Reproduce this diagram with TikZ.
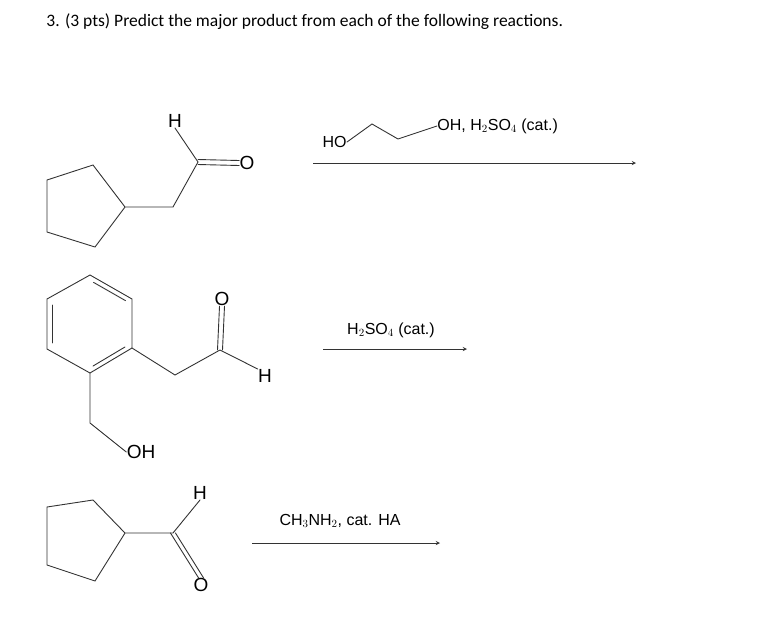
\documentclass[tikz,border=0pt]{standalone}
\usetikzlibrary{calc}
\usepackage{fontspec}
\setmainfont{Liberation Sans}
\newfontfamily\titlefont{Carlito}
\begin{document}
\begin{tikzpicture}[x=1pt,y=-1pt,line width=0.9pt,
  bond/.style={draw=black!80,line cap=round},
  atom/.style={inner sep=0pt,font=\fontsize{19}{19}\selectfont},
  reag/.style={inner sep=0pt,font=\fontsize{16}{16}\selectfont},
  arr/.style={draw=black!80,-stealth}]
\useasboundingbox (0,0) rectangle (757,633);
\node[anchor=west,inner sep=0pt,font=\titlefont\fontsize{17.5}{18}\selectfont] (title) at (46,22) {3. (3 pts) Predict the major product from each of the following reactions.};
% molecule 1
\coordinate (a1) at (47,180); \coordinate (a2) at (93,165); \coordinate (a3) at (125,207);
\coordinate (a4) at (95,247); \coordinate (a5) at (47,232); \coordinate (a6) at (173,207);
\coordinate (a7) at (198,162);
\node[atom] (h1) at (175,121) {H};
\node[atom] (o1) at (247,163) {O};
\draw[bond] (a1)--(a2)--(a3)--(a4)--(a5)--cycle (a3)--(a6)--(a7)--(h1.south);
\draw[bond] ([yshift=-2.5]a7)--([yshift=-2.5]o1.west) ([yshift=2.5]a7)--([yshift=2.5]o1.west);
% reagent 1
\node[reag,anchor=east] (ho) at (347,142) {HO};
\coordinate (r1) at (372,124); \coordinate (r2) at (398,139);
\node[reag,anchor=west] (oh) at (437,126) {OH, H$_2$SO$_4$ (cat.)};
\draw[bond] (ho.east)--(r1)--(r2)--(oh.west);
\coordinate (s1) at (313,163); \coordinate (e1) at (636,163);
\draw[arr] (s1)--(e1);
% molecule 2
\coordinate (b1) at (90,275); \coordinate (b2) at (132,299); \coordinate (b3) at (132,348);
\coordinate (b4) at (90,373); \coordinate (b5) at (47,349); \coordinate (b6) at (47,299);
\draw[bond] (b1)--(b2)--(b3)--(b4)--(b5)--(b6)--cycle;
\draw[bond] ($(b1)!0.12!(b2)+(-1.5,4.5)$) -- ($(b1)!0.88!(b2)+(-1.5,4.5)$);
\draw[bond] ($(b3)!0.12!(b4)+(-2,-4)$) -- ($(b3)!0.88!(b4)+(-2,-4)$);
\draw[bond] ($(b5)!0.12!(b6)+(5,0)$) -- ($(b5)!0.88!(b6)+(5,0)$);
\coordinate (b7) at (175,375); \coordinate (b8) at (220,350);
\node[atom] (o2) at (222,299) {O};
\node[atom] (h2) at (265,376) {H};
\draw[bond] (b3)--(b7)--(b8)--(h2.north west);
\draw[bond] ([xshift=-2.5]b8)--([xshift=-2.5]o2.south) ([xshift=2.5]b8)--([xshift=2.5]o2.south);
\coordinate (b9) at (90,423);
\node[atom] (oh2) at (141,452) {OH};
\draw[bond] (b4)--(b9)--(oh2.west);
% reagent 2
\node[reag] (rg2) at (391,330) {H$_2$SO$_4$ (cat.)};
\coordinate (s2) at (323,349); \coordinate (e2) at (467,349);
\draw[arr] (s2)--(e2);
% molecule 3
\coordinate (c1) at (47,507); \coordinate (c2) at (93,500); \coordinate (c3) at (125,533);
\coordinate (c4) at (95,581); \coordinate (c5) at (47,565); \coordinate (c6) at (173,533);
\node[atom] (h3) at (200,493) {H};
\node[atom] (o3) at (201,585) {O};
\draw[bond] (c1)--(c2)--(c3)--(c4)--(c5)--cycle (c3)--(c6)--(h3.south);
\draw[bond] ([xshift=-2.5]c6)--([xshift=-2.5]o3.north) ([xshift=2.5]c6)--([xshift=2.5]o3.north);
% reagent 3
\node[reag] (rg3) at (340,521) {CH$_3$NH$_2$, cat. HA};
\coordinate (s3) at (252,543); \coordinate (e3) at (440,543);
\draw[arr] (s3)--(e3);
\end{tikzpicture}
\end{document}
